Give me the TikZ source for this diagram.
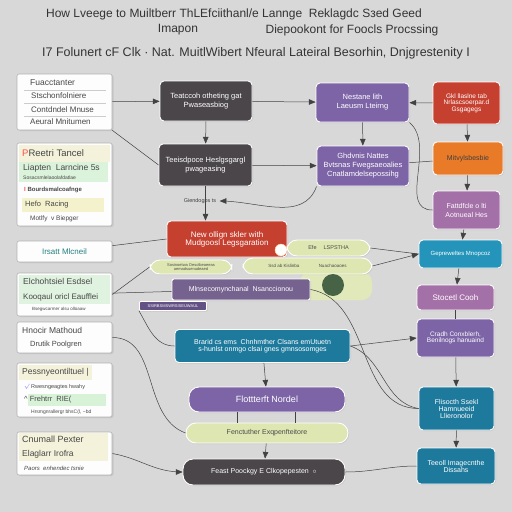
\documentclass[tikz,border=0pt]{standalone}
\usepackage{fontspec}
\setmainfont{Liberation Sans}
\usetikzlibrary{arrows,shadows}
\definecolor{bg}{RGB}{216,216,216}
\definecolor{darkb}{RGB}{74,70,74}
\definecolor{purpb}{RGB}{124,100,166}
\definecolor{redb}{RGB}{198,64,48}
\definecolor{orangeb}{RGB}{232,122,40}
\definecolor{pinkb}{RGB}{164,112,168}
\definecolor{tealb}{RGB}{36,148,186}
\definecolor{tealdk}{RGB}{30,122,156}
\definecolor{greenb}{RGB}{222,230,178}
\definecolor{violb}{RGB}{118,98,142}
\definecolor{linec}{RGB}{66,66,66}
\newcommand{\fs}[1]{\fontsize{#1}{#1}\selectfont}
\newcommand{\bxfont}{\fontsize{7.5}{9}\selectfont}
\tikzset{
  box/.style={draw=white, line width=0.9pt, rounded corners=4pt, align=center,
    text=white, font=\bxfont, inner sep=1pt,
    drop shadow={opacity=0.18, shadow xshift=1pt, shadow yshift=-1pt}},
  pill/.style={box, rounded corners=10pt},
  card/.style={draw=gray!60, fill=white!94!bg, line width=0.6pt,
    rounded corners=2pt, minimum width=95pt,
    drop shadow={opacity=0.2, shadow xshift=1.5pt, shadow yshift=-1pt}},
  txt/.style={anchor=west, text=black!72, inner sep=0pt},
  link/.style={draw=linec, line width=0.5pt},
  arr/.style={link, -triangle 45}
}

\begin{document}
\begin{tikzpicture}[x=1pt, y=-1pt]
  \fill[bg] (0,0) rectangle (512,512);
  \useasboundingbox (0,0) rectangle (512,512);

  % title
  \node[text=black!80, font=\fs{12}] (t1) at (234,14)
    {How Lveege to Muiltberr ThLEfciithanl/e Lanngе \ Reklagdc Sзed Geed};
  \node[text=black!80, font=\fs{12}] (t2) at (178,30) {Imapon};
  \node[text=black!80, font=\fs{12}] (t3) at (352,30) {Diepookont for Foocls Procssing};
  \node[text=black!80, font=\fs{12.5}] (t4) at (256,53)
    {I7 Folunert cF Clk · Nat. MuitlWibert Nfeural Lateiral Besorhin, Dnjgrestenity I};

  % left cards
  \node[card, minimum height=56pt] (l1) at (64.5,102) {};
  \foreach \y in {90,103,116} \draw[gray!40] (24,\y) -- (106,\y);
  \node[txt, font=\fs{8.5}] (l1a) at (30,83) {Fuacctanter};
  \node[txt, font=\fs{8}] (l1b) at (31,96) {Stschonfolniere};
  \node[txt, font=\fs{8}] (l1c) at (31,110) {Contdndel Mnuse};
  \node[txt, font=\fs{8}] (l1d) at (30,122) {Aeural Mnitumen};

  \node[card, minimum height=83pt] (l2) at (64.5,184.5) {};
  \fill[yellow!12!white!90!gray] (19,145) rectangle (110,162);
  \fill[green!10!white!90!gray] (19,162) rectangle (108,182);
  \fill[yellow!18!white!90!gray] (22,198) rectangle (104,212);
  \node[txt, font=\fs{9.5}] (l2a) at (22,153) {\textcolor{red!70}{P}Reetri Tancel};
  \node[txt, font=\fs{8.5}] (l2b) at (23,168) {Liapten \ Larncine 5s};
  \node[txt, font=\fs{5}] (l2c) at (23,178) {Sosacsmlelaoolafdatlae};
  \node[txt, font=\bfseries\fs{6}] (l2d) at (24,190) {\textcolor{red!70}{I} Bourdsmalcoafnge};
  \node[txt, font=\fs{7.5}] (l2e) at (25,205) {Hefo \ Racing};
  \node[txt, font=\fs{6.5}] (l2f) at (30,219) {Motlfy \ v Biepger};

  \node[card, minimum height=21pt, text=teal!70!gray, font=\fs{8}] (l3) at (64.5,251.5) {Irsatt Mlcneil};

  \node[card, minimum height=43pt] (l4) at (64.5,294.5) {};
  \fill[green!8!white!90!gray] (19,275) rectangle (110,304);
  \node[txt, font=\fs{8.5}] (l4a) at (23,281) {Elchohtsiel Esdsel};
  \node[txt, font=\fs{8}] (l4b) at (23,297) {Kooqaul oricl Eaufflei};
  \node[txt, font=\fs{4.5}] (l4c) at (32,309) {Bsegwcarmer alsu olloaaw};

  \node[card, minimum height=31pt] (l5) at (64.5,337.5) {};
  \node[txt, font=\fs{8.5}] (l5a) at (22,330) {Hnocir Mathoud};
  \node[txt, font=\fs{7.5}] (l5b) at (30,345) {Drutik Poolgren};

  \node[card, minimum height=54pt] (l6) at (64.5,390) {};
  \fill[yellow!12!white!90!gray] (19,365) rectangle (92,380);
  \fill[green!12!white!90!gray] (28,394) rectangle (106,406);
  \node[txt, font=\fs{8.5}] (l6a) at (22,372) {Pessnyeontiltuel \textbar};
  \node[txt, font=\fs{5.5}] (l6b) at (24,387) {\textcolor{blue!70}{$\surd$}\ Rwesngeagtes hwahy};
  \node[txt, font=\fs{7.5}] (l6c) at (24,400) {\textasciicircum\ Frehtrr \ RIE(};
  \node[txt, font=\fs{5}] (l6d) at (31,412) {Hrsmgnrallergr bhsC(l, \textasciitilde bd};

  \node[card, minimum height=43pt] (l7) at (64.5,453.5) {};
  \fill[yellow!12!white!90!gray] (19,433) rectangle (108,461);
  \node[txt, font=\fs{9}] (l7a) at (22,439) {Cnumall Pexter};
  \node[txt, font=\fs{8.5}] (l7b) at (22,454) {Elaglarr Irofra};
  \node[txt, font=\itshape\fs{6}] (l7c) at (24,468) {Paors \ enhendec tsnie};

  % middle column
  \node[box, fill=darkb, minimum width=92pt, minimum height=40pt] (d1) at (206,101)
    {Teatccoh otheting gat\\Pwaseasbiog};
  \node[box, fill=darkb, minimum width=93pt, minimum height=42pt] (d2) at (205.5,165)
    {Teeisdpoce Heslgsgargl\\pwageasing};
  \node[font=\fs{5.5}, text=black!75] (lab) at (200,201) {Giendogps ts};
  \node[box, fill=redb, minimum width=120pt, minimum height=36pt, font=\fs{8}] (m1) at (227,239)
    {New ollign skler with\\Mudgoosl Legsgaration};
  \fill[white, draw=orange!40] (281,250) circle (6);
  \node[pill, fill=greenb, text=black!70, minimum width=83pt, minimum height=16pt, font=\fs{5.5}] (g1) at (328.5,248) {Efe \quad LSPSTHA};
  \node[pill, fill=greenb, text=black!70, minimum width=82pt, minimum height=14pt, font=\fs{4}] (g2) at (191,267) {Sosinoetwa Oesctbeaeeas\\aemadsuenudeaed};
  \fill[greenb!90!white, rounded corners=10pt] (300,272) rectangle (372,300);
  \node[pill, fill=greenb, text=black!70, minimum width=129pt, minimum height=16pt, font=\fs{4.5}] (g3) at (307.5,266) {Ssd ab Kislinba \qquad\qquad Nuachaoaoes};
  \fill[green!25!black!45!gray] (333,285) circle (11);
  \node[box, fill=violb, rounded corners=2pt, minimum width=138pt, minimum height=21pt, font=\fs{7}] (u1) at (241,289.5)
    {Mlnsecomynchanal \ Nsanccionou};
  \node[box, fill=purpb!80!black, rounded corners=1pt, minimum width=67pt, minimum height=9pt, font=\fs{4}] (u2) at (173,306)
    {SSIRBSMSWRSISEUWAUL};
  \node[box, fill=tealdk, minimum width=175pt, minimum height=33pt, font=\fs{7}] (c1) at (262.5,346)
    {Brarid cs ems \ Chnhmther Clsans emUtuetn\\s-hunlst onmgo clsai gnes gmnsosomges};
  \node[pill, fill=purpb, minimum width=156pt, minimum height=25pt, font=\fs{9}] (f1) at (267,399.5)
    {Flottterft Nordel};
  \node[pill, fill=greenb, text=black!70, minimum width=162pt, minimum height=20pt, font=\fs{7}] (f2) at (267,433)
    {Fenctuther Exqpenfteitore};
  \node[pill, fill=darkb, minimum width=162pt, minimum height=26pt, font=\fs{7}] (f3) at (264,472)
    {Feast Poockgy E Clkopepesten \ $\circ$};

  % right part
  \node[box, fill=purpb, minimum width=93pt, minimum height=39pt] (p1) at (362.5,102.5)
    {Nestane lith\\Laeusm Lteirng};
  \node[box, fill=purpb, minimum width=92pt, minimum height=40pt] (p2) at (363,166)
    {Ghdvnis Nattes\\Bvtsnas Fwegsaeoalies\\Cnatlamdelsepossihg};
  \node[box, fill=redb, minimum width=67pt, minimum height=42pt, font=\fs{6.5}] (r1) at (466.5,103)
    {Gkl llaslne tab\\Nrlascsoerpar.d\\Gsgagegs};
  \node[box, fill=orangeb, text=black!75, minimum width=70pt, minimum height=33pt, font=\fs{7}] (o1) at (468,158.5)
    {Mitvylsbesbie};
  \node[box, fill=pinkb, minimum width=67pt, minimum height=38pt, font=\fs{7}] (p3) at (466.5,210)
    {Fattdfcle o lti\\[2pt]Aotnueal Hes};
  \node[box, fill=tealb, minimum width=83pt, minimum height=28pt, font=\fs{6}] (t5) at (460.5,254)
    {Gepreweltes Mnopcoz};
  \node[box, fill=pinkb, minimum width=77pt, minimum height=25pt, font=\fs{8}] (s1) at (455.5,297.5)
    {Stocetl Cooh};
  \node[box, fill=purpb, minimum width=77pt, minimum height=38pt, font=\fs{6.5}] (s2) at (455.5,338)
    {Cradh Conxblerh,\\Benilnogs hanuaind};
  \node[box, fill=tealdk, minimum width=75pt, minimum height=43pt, font=\fs{7}] (t6) at (456.5,408.5)
    {Flisocth Ssekl\\Hamnueeid\\Llieronolor};
  \node[box, fill=tealdk, minimum width=78pt, minimum height=36pt, font=\fs{7}] (t7) at (456,466)
    {Teeoll Imagecnthe\\Dissahs};

  % connectors
  \draw[arr] (l1) -- (d1);
  \draw[link] (l1.south east) -- (d2.west);
  \draw[arr] (d1) -- (d2);
  \draw[arr] (d1) -- (p1);
  \draw[arr] (d2) -- (p2);
  \draw[arr] (p1) -- (p2);
  \draw[arr] (r1) -- (p1);
  \draw[arr] (r1) -- (o1);
  \draw[link] (o1) -- (p2);
  \draw[arr] (o1) -- (p3);
  \draw[arr] (p3) -- (t5);
  \draw[link] (p1.south east) to[out=-40, in=180] (p3.west);
  \draw[arr] (t5) -- (s1);
  \draw[link] (s1) -- (s2);
  \draw[arr] (s2) -- (t6);
  \draw[arr] (t6) -- (t7);
  \draw[arr] (p2.south west) to[out=-110, in=0] (lab);
  \draw[arr] (d2.south) -- (d2.south |- m1.north);
  \draw[link] (l3) -- (m1.west);
  \draw[link] (l4.east) -- (g2.west);
  \draw[link] (l4) -- (u1);
  \draw[link] (u2.south west) to[out=-60, in=180] (c1.west);
  \draw[link] (l5.east) to[out=0, in=160] (f2.west);
  \draw[arr] (l7.east) to[out=-10, in=180] (f3.west);
  \draw[arr] (c1) -- (f1);
  \draw[link] ([xshift=-30pt]f1.south) -- ([xshift=-30pt]f1.south |- f2.north);
  \draw[link] ([xshift=28pt]f1.south) -- ([xshift=28pt]f1.south |- f2.north);
  \draw[arr] (f2) -- (f3);
  \draw[link] (t5.west) -- (g1.east);
  \draw[arr] (g3.east) -- (t5.west);
  \draw[link] (u1.east) to[out=-10, in=180] (t6.west);
  \draw[arr] (c1.east) -- (s2.west);
  \draw[link] (c1.east) to[out=-20, in=170] (t6.west);
  \draw[link] (f3.east) to[out=0, in=180] (t7.west);
\end{tikzpicture}
\end{document}
